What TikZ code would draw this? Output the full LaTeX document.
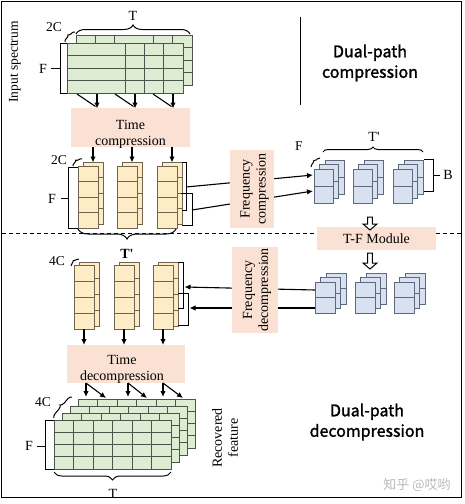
\documentclass[tikz,border=0pt]{standalone}
\usepackage{fontspec}
\setmainfont{Liberation Serif}
\newfontfamily\tms{Liberation Serif}
\newfontfamily\cjk{Noto Sans CJK SC}
\newfontfamily\dpfont[FakeBold=1.6]{Noto Sans CJK SC}
\usetikzlibrary{arrows.meta,decorations.pathreplacing,calc}
\definecolor{peach}{RGB}{250,225,212}
\definecolor{gfill}{RGB}{222,236,212}
\definecolor{gline}{RGB}{75,85,75}
\definecolor{yfill}{RGB}{253,236,198}
\definecolor{yline}{RGB}{110,100,80}
\definecolor{bfill}{RGB}{216,225,240}
\definecolor{bline}{RGB}{95,105,125}
\begin{document}
\begin{tikzpicture}[x=1pt,y=-1pt,
  pbox/.style={fill=peach,draw=none,inner sep=0pt},
  gcell/.style={draw=gline,line width=0.6pt},
  ycell/.style={draw=yline,line width=0.6pt},
  bcell/.style={draw=bline,line width=0.6pt},
  arr/.style={-{Latex[length=6pt,width=5.5pt]},line width=1.1pt},
  conn/.style={line width=1.1pt},
  lbl/.style={font=\tms\fontsize{14}{16}\selectfont,inner sep=0pt},
  sml/.style={font=\tms\fontsize{13.5}{15}\selectfont,inner sep=0pt},
  brk/.style={line width=1pt},
  brc/.style={decorate,decoration={brace,amplitude=#1},line width=1pt},
  dp/.style={font=\dpfont\fontsize{16}{20.5}\selectfont,align=center,inner sep=0pt},
]
\useasboundingbox (0,0) rectangle (464,504);
% frame, separators
\draw[line width=1.5pt] (1.5,1.5) rectangle (461.5,497.5);
\draw[line width=0.8pt,dash pattern=on 4pt off 3pt] (2,233) -- (461,233);
\draw[line width=1pt] (300,17) -- (300,105);
\node[dp] (dpc) at (370,63) {Dual-path\\compression};
\node[dp] (dpd) at (367,422) {Dual-path\\decompression};
\node[font=\cjk\fontsize{13}{15}\selectfont,text=gray!55,inner sep=0pt] (wm) at (417,485) {知乎 @哎哟};
\node[sml,rotate=90] (inp) at (15,62) {Input spectrum};
\node[lbl,rotate=90,align=center] (rec) at (225,438) {Recovered\\feature};

% ===== top green spectrum =====
\fill[gfill] (76,35) rectangle (192,85);
\foreach \yy in {47.5,60,72.5} \draw[gcell] (76,\yy) -- (192,\yy);
\foreach \xx in {95.3,114.7,153.3,172.7} \draw[gcell] (\xx,35) -- (\xx,85);
\draw[gcell] (76,35) rectangle (192,85);
\fill[gfill] (67,43) rectangle (183,93);
\foreach \yy in {55.5,68,80.5} \draw[gcell] (67,\yy) -- (183,\yy);
\foreach \xx in {125,144.3,163.7} \draw[gcell] (\xx,43) -- (\xx,93);
\draw[gcell] (67,43) rectangle (183,93);
\draw[brc=9] (76,34) -- (190,34);
\node[lbl] (tlab) at (133,16) {T};
\draw[brc=3] (65,42) -- (75,32);
\node[sml] (c2a) at (54,27) {2C};
\draw[brk] (67,43) -- (60,43) -- (60,93) -- (67,93);
\draw[brk] (60,68) -- (51,68);
\node[lbl] (fa) at (43,69) {F};

% Time compression
\node[pbox,minimum width=119pt,minimum height=39pt] (tc) at (130.5,127.5) {};
\node[lbl,align=center] (tct) at (130.5,134) {Time\\compression};
\foreach \dx/\vx in {77/97,115/135,153/173} {
  \draw[conn] (\dx,94) -- (\vx-1.5,106.5);
  \draw[arr] (\vx,94) -- (\vx,108.5);
}
\foreach \vx in {93,132,172} \draw[arr] (\vx,147) -- (\vx,162.5);

% ===== top yellow stacks =====
\foreach \sx in {78,117,157} {
  \fill[yfill] (\sx+5.5,162) rectangle (\sx+25.5,224);
  \foreach \k in {1,2,3} \draw[ycell] (\sx+5.5,162+15.5*\k) -- (\sx+25.5,162+15.5*\k);
  \draw[ycell] (\sx+5.5,162) rectangle (\sx+25.5,224);
  \fill[yfill] (\sx,166) rectangle (\sx+20,228);
  \foreach \k in {1,2,3} \draw[ycell] (\sx,166+15.5*\k) -- (\sx+20,166+15.5*\k);
  \draw[ycell] (\sx,166) rectangle (\sx+20,228);
}
\draw[brc=3] (73,166) -- (82,159);
\node[sml] (c2b) at (59,160) {2C};
\draw[brk] (78,167) -- (68,167) -- (68,228) -- (78,228);
\draw[brk] (68,198) -- (61,198);
\node[lbl] (fb) at (52,199) {F};
\draw[brc=10] (176,229) -- (78,229);
% brackets of third stack
\draw[brk] (182,162) -| (186,210) -- (182,210);
\draw[brk] (181,193) -| (192,225) -- (182,225);
\coordinate (ub) at (186,187);
\coordinate (lb) at (192,210);
\coordinate (bu) at (313,175);
\coordinate (bl) at (313,191);
\draw[arr] (ub) -- (bu);
\draw[arr] (lb) -- (bl);
% Frequency compression
\node[pbox,minimum width=44pt,minimum height=78pt] (fc) at (252,189) {};
\node[lbl,rotate=90,align=center] (fct) at (254.5,189) {Frequency\\compression};

% ===== top blue stacks =====
\foreach \sx in {314,353,393} {
  \foreach \k in {2,1,0} {
    \fill[bfill] (\sx+5.5*\k,169-4.5*\k) rectangle (\sx+19+5.5*\k,203-4.5*\k);
    \draw[bcell] (\sx+5.5*\k,186-4.5*\k) -- (\sx+19+5.5*\k,186-4.5*\k);
    \draw[bcell] (\sx+5.5*\k,169-4.5*\k) rectangle (\sx+19+5.5*\k,203-4.5*\k);
  }
}
\draw[brc=5] (323,152) -- (423,152);
\node[lbl] (tpa) at (374,137) {T'};
\draw[brc=2.5] (311,167) -- (320,158);
\node[sml] (fe) at (299,146) {F};
\draw[brk] (424,159) -- (433,159) -- (433,191) -- (424,191);
\draw[brk] (433,175) -- (440,175);
\node[lbl] (blab) at (448,175) {B};

% T-F module and hollow arrows
\node[pbox,minimum width=119pt,minimum height=23pt] (tf) at (376.5,238.5) {};
\node[lbl] (tft) at (376.5,239) {T-F Module};
\foreach \ay/\sh/\hd in {217/7/13,253/10/16} {
  \draw[line width=1pt,fill=white] (367.7,\ay) -- (372.3,\ay) -- (372.3,\ay+\sh) -- (377,\ay+\sh)
     -- (370,\ay+\hd) -- (363,\ay+\sh) -- (367.7,\ay+\sh) -- cycle;
}

% ===== bottom blue stacks =====
\foreach \sx in {315,355,394} {
  \foreach \k in {2,1,0} {
    \fill[bfill] (\sx+5.5*\k,282-4.5*\k) rectangle (\sx+20+5.5*\k,313-4.5*\k);
    \draw[bcell] (\sx+5.5*\k,297.5-4.5*\k) -- (\sx+20+5.5*\k,297.5-4.5*\k);
    \draw[bcell] (\sx+5.5*\k,282-4.5*\k) rectangle (\sx+20+5.5*\k,313-4.5*\k);
  }
}
\coordinate (du) at (315,290);
\coordinate (dl) at (315,308);
\coordinate (yu) at (184.5,287);
\coordinate (yl) at (189.5,308);
\draw[arr] (du) -- (yu);
\draw[arr] (dl) -- (yl);
\node[pbox,minimum width=46pt,minimum height=86pt] (fd) at (255,290) {};
\node[lbl,rotate=90,align=center] (fdt) at (257,290) {Frequency\\decompression};

% ===== bottom yellow stacks =====
\foreach \sx in {74,114,153} {
  \fill[yfill] (\sx+5,262) rectangle (\sx+25,326);
  \foreach \k in {1,2,3} \draw[ycell] (\sx+5,262+16*\k) -- (\sx+25,262+16*\k);
  \draw[ycell] (\sx+5,262) rectangle (\sx+25,326);
  \fill[yfill] (\sx,265) rectangle (\sx+20,329);
  \foreach \k in {1,2,3} \draw[ycell] (\sx,265+16*\k) -- (\sx+20,265+16*\k);
  \draw[ycell] (\sx,265) rectangle (\sx+20,329);
}
\draw[brk] (178,262) -| (183,308) -- (178,308);
\draw[brk] (178,293) -| (188,325) -- (178,325);
\node[lbl,font=\tms\bfseries\fontsize{14}{16}\selectfont] (tpb) at (127,254) {T'};
\draw[brc=2.5] (71,266) -- (79,259);
\node[sml] (c4a) at (57,261) {4C};
\foreach \vx in {84,124,163} \draw[arr] (\vx,329) -- (\vx,345);

% Time decompression
\node[pbox,minimum width=118pt,minimum height=38pt] (td) at (126,364) {};
\node[lbl,align=center] (tdt) at (122,369) {Time\\decompression};

% ===== bottom green spectrum =====
\foreach \i in {3,2,1,0} {
  \fill[gfill] (54+8*\i,420-7*\i) rectangle (171+8*\i,469-7*\i);
  \foreach \k in {1,...,5} \draw[gcell] (54+8*\i+19.5*\k,420-7*\i) -- (54+8*\i+19.5*\k,469-7*\i);
  \foreach \k in {1,2,3} \draw[gcell] (54+8*\i,420-7*\i+12.25*\k) -- (171+8*\i,420-7*\i+12.25*\k);
  \draw[gcell] (54+8*\i,420-7*\i) rectangle (171+8*\i,469-7*\i);
}
\foreach \vx/\dx in {86/106,128/147,163/183} {
  \draw[arr] (\vx,383) -- (\vx,397);
  \draw[arr] (\vx,383) -- (\dx,398);
}
\draw[brc=4] (54,418) -- (72,397);
\node[sml] (c4b) at (43,402) {4C};
\draw[brk] (54,420) -- (45,420) -- (45,469) -- (54,469);
\draw[brk] (45,446) -- (37,446);
\node[lbl] (fg) at (29,446) {F};
\draw[brc=8] (171,472) -- (54,472);
\node[lbl] (tb) at (113,494) {T};
\end{tikzpicture}
\end{document}
